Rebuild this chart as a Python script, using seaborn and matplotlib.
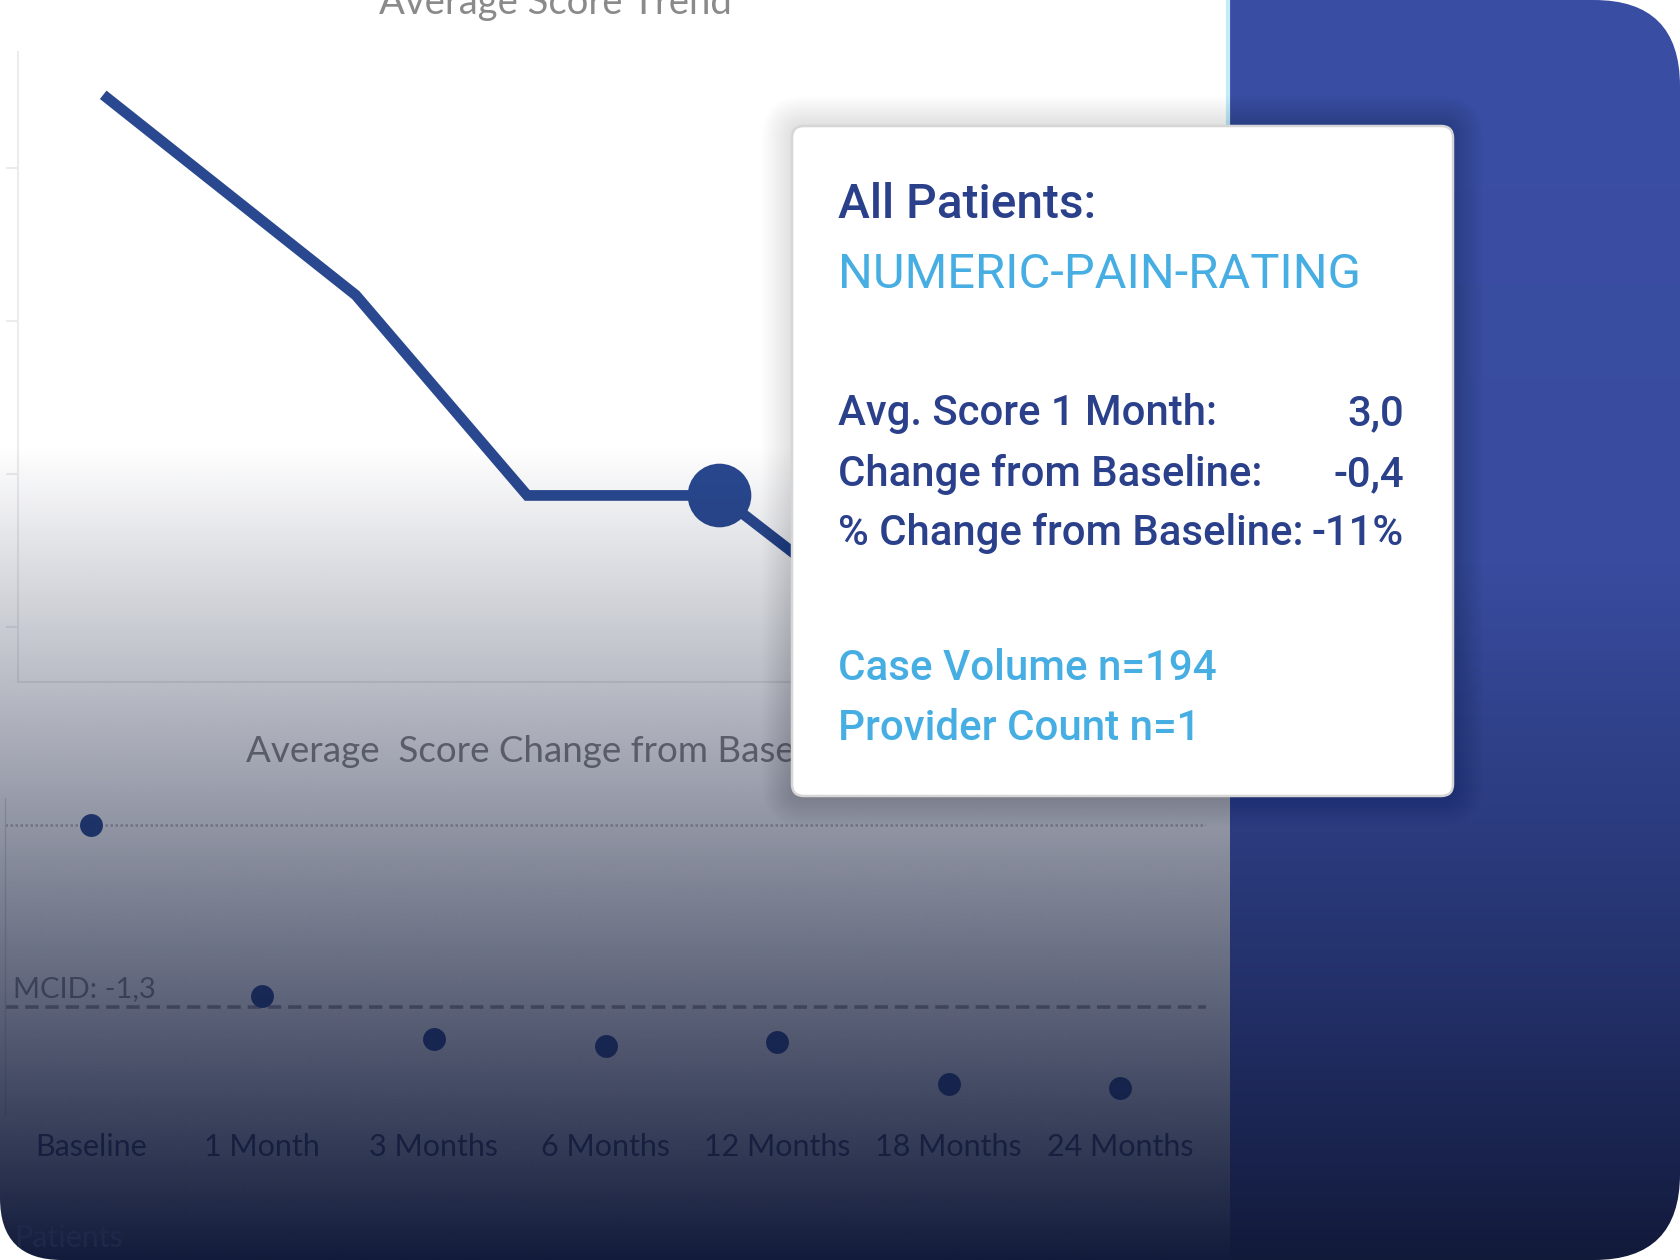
import matplotlib.pyplot as plt
import numpy as np
import seaborn as sb
from matplotlib.patches import FancyBboxPatch

# ---- data ----
# upper chart: average score trend (the 1 Month point is the hovered one)
trend_x = [0.0, 1.23, 2.065, 3.0, 4.0]
trend_y = [5.48, 4.17, 2.86, 2.86, 1.82]
trend_ticks = [2, 3, 4, 5]
hover_idx = 3

# lower chart: average score change from baseline
periods = ["Baseline", "1 Month", "3 Months", "6 Months", "12 Months", "18 Months", "24 Months"]
change = [0.0, -1.22, -1.53, -1.58, -1.55, -1.85, -1.88]
mcid = -1.3
mcid_label = "MCID: -1,3"

# tooltip
tip_title = "All Patients:"
tip_measure = "NUMERIC-PAIN-RATING"
tip_rows = ["Avg. Score 1 Month:", "Change from Baseline:", "% Change from Baseline:"]
tip_vals = ["3,0", "-0,4", "-11%"]
tip_counts = ["Case Volume n=194", "Provider Count n=1"]

NAVY = "#29488f"
DARK = "#2b408a"
LIGHT = "#46aee2"
W, H = 1680, 1260

sb.set_style("white")
plt.rcParams["font.family"] = ["Lato", "DejaVu Sans"]

fig = plt.figure(figsize=(W / 100, H / 100), dpi=100)


def px_axes(x0, y0, x1, y1, **kw):
    # axes from a pixel box, origin top-left
    return fig.add_axes([x0 / W, 1 - y1 / H, (x1 - x0) / W, (y1 - y0) / H], **kw)


# ---- upper chart ----
ax1 = px_axes(18, 52, 1210, 682)
ax1.set_facecolor("none")
sb.lineplot(x=trend_x, y=trend_y, ax=ax1, color=NAVY, linewidth=7.7,
            solid_capstyle="butt", solid_joinstyle="miter")
ax1.scatter(trend_x[hover_idx], trend_y[hover_idx], s=2100, color=NAVY, linewidths=0, zorder=4)
ax1.set_xlim(-0.415, 5.39)
ax1.set_ylim(1.64, 5.76)
ax1.set_yticks(trend_ticks)
ax1.set_yticklabels([])
ax1.set_xticks([])
ax1.tick_params(axis="y", left=True, length=8.6, width=1.5, color="#ebebed", direction="out")
for s in ["top", "right"]:
    ax1.spines[s].set_visible(False)
for s in ["left", "bottom"]:
    ax1.spines[s].set_color("#ececef")
    ax1.spines[s].set_linewidth(1.5)
ax1.set_title("Average Score Trend", x=0.4505, pad=27.4, fontsize=27.5, color="#8a8a8a")

# ---- lower chart ----
ax2 = px_axes(5, 798, 1206, 1114)
ax2.set_facecolor("none")
sb.stripplot(x=periods, y=change, ax=ax2, jitter=False, size=16.5, color=NAVY, linewidth=0, zorder=4)
ax2.axhline(0, color="#c0c0c5", lw=1.8, ls=(0, (1, 1.0)), zorder=2)
ax2.axhline(mcid, color="#a3a3aa", lw=2.6, ls=(0, (3.7, 1.9)), zorder=2)
ax2.set_xlim(-0.5, 6.5)
ax2.set_ylim(-2.064, 0.193)
ax2.set_yticks([])
ax2.set_xlabel("")
ax2.set_ylabel("")
ax2.tick_params(axis="x", length=0, pad=14, labelsize=22, labelcolor="#3a4262")
for s in ["top", "right", "bottom"]:
    ax2.spines[s].set_visible(False)
ax2.spines["left"].set_color("#dedee2")
ax2.spines["left"].set_linewidth(1)
ax2.set_title("Average  Score Change from Baseline", loc="left", x=0.2007, pad=26,
              fontsize=26.5, color="#858585")
ax2.annotate(mcid_label, xy=(0.0067, mcid), xycoords=("axes fraction", "data"),
             xytext=(0, 10), textcoords="offset pixels", va="baseline",
             fontsize=21, color="#8e8e92")

# ---- overlay: fade, side panel, tooltip ----
ov = fig.add_axes([0, 0, 1, 1], zorder=5)
ov.set_xlim(0, W)
ov.set_ylim(H, 0)
ov.axis("off")

left_clip = FancyBboxPatch((0, -100), 1400, H + 100, boxstyle="round,pad=0,rounding_size=62",
                           fc="none", ec="none")
ov.add_patch(left_clip)
right_clip = FancyBboxPatch((1100, 0), W - 1100, H, boxstyle="round,pad=0,rounding_size=86",
                            fc="none", ec="none")
ov.add_patch(right_clip)

rows = np.linspace(0, H, 600)
fade = np.clip((rows - 445) / (H - 445), 0, 1)
shade = np.zeros((len(rows), 2, 4))
shade[..., :3] = np.array([17, 26, 58]) / 255
shade[..., 3] = fade[:, None]
im = ov.imshow(shade, extent=(0, 1230, H, 0), aspect="auto", interpolation="bilinear", zorder=1)
im.set_clip_path(left_clip)

stop_pos = [0, 0.45, 0.65, 0.8, 1.0]
stop_col = np.array([(58, 78, 164), (56, 75, 158), (44, 60, 128), (34, 47, 103), (18, 26, 58)]) / 255
t = rows / H
panel = np.stack([np.interp(t, stop_pos, stop_col[:, k]) for k in range(3)], axis=-1)
panel = np.repeat(panel[:, None, :], 2, axis=1)
im2 = ov.imshow(panel, extent=(1230, W, H, 0), aspect="auto", interpolation="bilinear", zorder=1)
im2.set_clip_path(right_clip)

ov.plot([1228, 1228], [0, 126], color="#c3ebf8", lw=3, zorder=2)
pt = ov.text(14, 1247, "Patients", fontsize=22, color="#1f284b", va="baseline", zorder=2)
pt.set_clip_path(left_clip)

ov.set_xlim(0, W)
ov.set_ylim(H, 0)

# tooltip shadow + box
for i in range(1, 16):
    ov.add_patch(FancyBboxPatch((792 - 2 * i, 126 - 2 * i), 661 + 4 * i, 670 + 4 * i,
                                boxstyle=f"round,pad=0,rounding_size={12 + 2 * i}",
                                fc="black", ec="none", alpha=0.008, zorder=3))
ov.add_patch(FancyBboxPatch((792, 126), 661, 670, boxstyle="round,pad=0,rounding_size=12",
                            fc="white", ec="#d6d6d6", lw=1.8, zorder=4))

font_tip = ["Roboto", "DejaVu Sans"]
ov.text(838, 218, tip_title, fontsize=34.5, color=DARK, fontweight=500, family=font_tip,
        va="baseline", zorder=5)
ov.text(838, 288, tip_measure, fontsize=35.2, color=LIGHT, family=font_tip, va="baseline", zorder=5)
for lab, val, yb in zip(tip_rows, tip_vals, [425, 486, 545]):
    ov.text(838, yb, lab, fontsize=30.2, color=DARK, fontweight=500, family=font_tip,
            va="baseline", zorder=5)
    ov.text(1404, yb, val, fontsize=30.2, color=DARK, fontweight=500, family=font_tip,
            va="baseline", ha="right", zorder=5)
for lab, yb in zip(tip_counts, [680, 740]):
    ov.text(838, yb, lab, fontsize=30.3, color=LIGHT, fontweight=500, family=font_tip,
            va="baseline", zorder=5)

fig.savefig("out.png", dpi=100)
